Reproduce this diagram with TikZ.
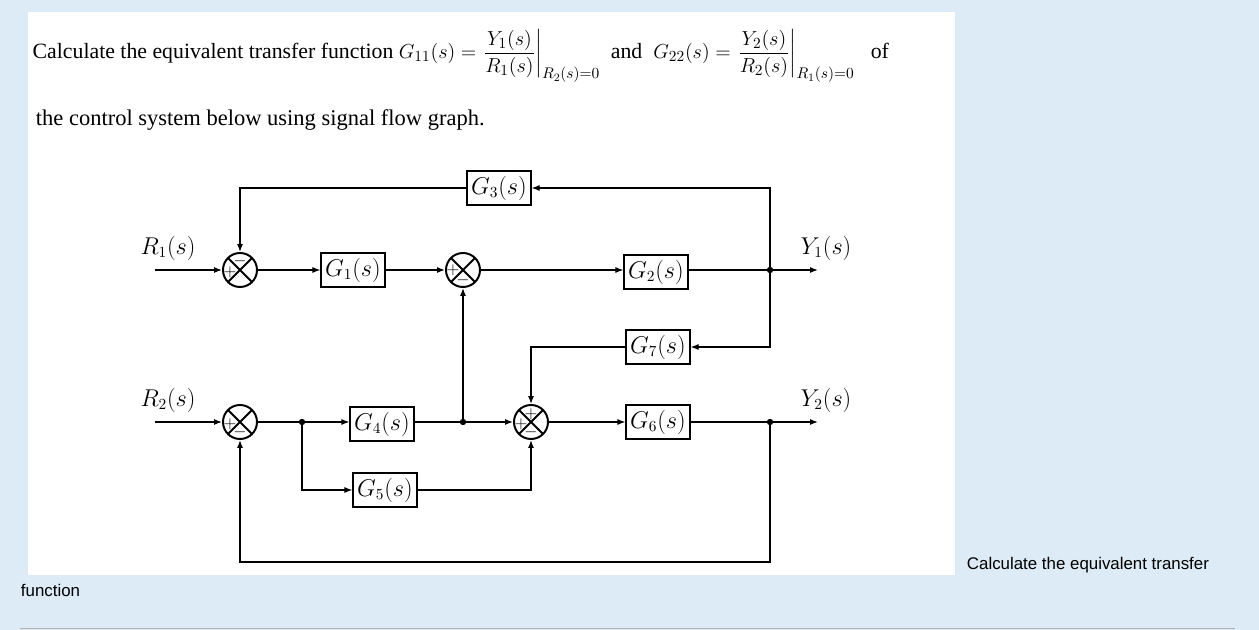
\documentclass[tikz,border=0pt]{standalone}
\usepackage{amsmath}
\usepackage{fontspec}
\setmainfont{Liberation Serif}
\newfontfamily\sansf{Liberation Sans}
\usepackage{tikz}
\usetikzlibrary{arrows.meta,positioning,calc}
\definecolor{pagebg}{HTML}{DCEBF5}
\begin{document}
\begin{tikzpicture}[x=0.025cm, y=-0.025cm,
  blk/.style={draw, thick, rectangle, minimum width=1.6cm, minimum height=0.85cm, inner sep=1pt, font=\fontsize{16}{16}\selectfont},
  sum/.style={draw, line width=1.4pt, circle, minimum size=0.85cm, inner sep=0pt, path picture={\draw[line width=1.4pt] (path picture bounding box.north west) -- (path picture bounding box.south east) (path picture bounding box.north east) -- (path picture bounding box.south west);}},
  sgn/.style={font=\fontsize{13}{13}\selectfont, inner sep=0pt},
  lbl/.style={font=\fontsize{16}{16}\selectfont},
  dot/.style={circle, fill, inner sep=1.6pt},
  arr/.style={thick,-{Latex[length=2mm]}}]
  \fill[pagebg] (0,0) rectangle (1259,630);
  \fill[white] (28,12) rectangle (955,575);
  \draw[gray!60] (20,628) -- (1235,628);

  \node[anchor=west, font=\fontsize{15.5}{16}\selectfont, inner sep=1pt] at (31,56) (title)
    {Calculate the equivalent transfer function $G_{11}(s)=\left.\dfrac{Y_1(s)}{R_1(s)}\right|_{R_2(s)=0}$ \ and \ $G_{22}(s)=\left.\dfrac{Y_2(s)}{R_2(s)}\right|_{R_1(s)=0}$ \ \ of};
  \node[anchor=west, font=\fontsize{16}{17}\selectfont] at (31,120) (title2) {the control system below using signal flow graph.};
  \node[anchor=west, font=\sansf\fontsize{12}{12}\selectfont] at (962,565) (note) {Calculate the equivalent transfer};
  \node[anchor=west, font=\sansf\fontsize{12}{12}\selectfont] at (16,590) (note2) {function};

  \node[sum] at (240,270) (sum1) {};
  \node[sum] at (463,270) (sum2) {};
  \node[sum] at (240,422) (sum3) {};
  \node[sum] at (531,422) (sum4) {};
  \node[blk] at (353,270) (g1) {$G_1(s)$};
  \node[blk] at (656,272) (g2) {$G_2(s)$};
  \node[blk] at (499,188) (g3) {$G_3(s)$};
  \node[blk] at (658,347) (g7) {$G_7(s)$};
  \node[blk] at (382,424) (g4) {$G_4(s)$};
  \node[blk] at (658,422) (g6) {$G_6(s)$};
  \node[blk] at (385,490) (g5) {$G_5(s)$};

  \node[sgn] at ($(sum1)+(-10,2)$) {$+$};
  \node[sgn] at ($(sum1)+(0,-9)$) {$-$};
  \node[sgn] at ($(sum2)+(-10,0)$) {$+$};
  \node[sgn] at ($(sum2)+(0,10)$) {$-$};
  \node[sgn] at ($(sum3)+(-10,2)$) {$+$};
  \node[sgn] at ($(sum3)+(0,10)$) {$-$};
  \node[sgn] at ($(sum4)+(-10,2)$) {$+$};
  \node[sgn] at ($(sum4)+(0,-8)$) {$+$};
  \node[sgn] at ($(sum4)+(0,10)$) {$-$};

  \node[lbl] at (168,248) (r1) {$R_1(s)$};
  \node[lbl] at (168,400) (r2) {$R_2(s)$};
  \node[lbl] at (826,248) (y1) {$Y_1(s)$};
  \node[lbl] at (826,400) (y2) {$Y_2(s)$};
  \coordinate (in1) at (155,270);
  \coordinate (in2) at (155,422);
  \coordinate (out1) at (818,270);
  \coordinate (out2) at (818,422);
  \node[dot] at (770,270) (b1) {};
  \node[dot] at (770,422) (b2) {};
  \node[dot] at (302,422) (b3) {};
  \node[dot] at (463,422) (b4) {};

  \draw[arr] (in1) -- (sum1);
  \draw[arr] (sum1) -- (g1);
  \draw[arr] (g1) -- (sum2);
  \draw[arr] (sum2) -- (sum2 -| g2.west);
  \draw[thick] (g2.east |- b1) -- (b1);
  \draw[arr] (b1) -- (out1);
  \draw[arr] (b1) |- (g3);
  \draw[arr] (g3) -| (sum1);
  \draw[arr] (b1) |- (g7);
  \draw[arr] (g7) -| (sum4);

  \draw[arr] (in2) -- (sum3);
  \draw[thick] (sum3) -- (b3);
  \draw[arr] (b3) -- (b3 -| g4.west);
  \draw[thick] (g4.east |- b4) -- (b4);
  \draw[arr] (b4) -- (sum4);
  \draw[arr] (b4) -- (sum2);
  \draw[arr] (b3) |- (g5);
  \draw[arr] (g5) -| (sum4);
  \draw[arr] (sum4) -- (g6);
  \draw[thick] (g6) -- (b2);
  \draw[arr] (b2) -- (out2);
  \draw[arr] (b2) -- (770,562) -| (sum3);
\end{tikzpicture}
\end{document}
